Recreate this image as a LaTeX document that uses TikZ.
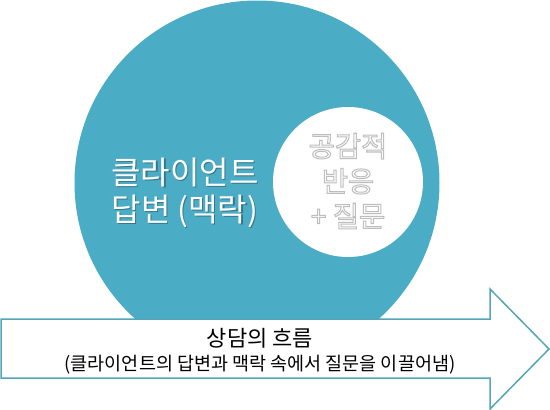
\documentclass[tikz,border=0pt]{standalone}
\usepackage{fontspec}
\setmainfont{Noto Sans CJK KR}
\definecolor{tealfill}{HTML}{4BACC6}
\definecolor{arrowline}{HTML}{55A5B8}
\newcommand{\strokedtext}[1]{\special{pdf:literal direct 2 Tr 1 w 0.74 0.74 0.74 RG}#1\special{pdf:literal direct 0 Tr}}
\tikzset{
  bigtext/.style={align=center, font=\fontsize{32}{37}\selectfont, text=white, inner sep=0pt},
  circtext/.style={align=center, font=\fontsize{28.5}{35}\selectfont, inner sep=0pt},
  flowarrow/.style={draw=arrowline, line width=1.5pt, fill=white, line join=miter},
}
\begin{document}
\begin{tikzpicture}[x=1pt,y=-1pt]
\useasboundingbox (0,0) rectangle (550,410);
% big circle
\fill[tealfill] (257,183) circle (182.5);
% small white circle
\fill[white] (348,182) circle (75);
% left text with shadow
\node[bigtext, text=black, opacity=0.3] (clientshadow) at (186.2,194.2) {클라이언트\\답변 (맥락)};
\node[bigtext] (client) at (185,193) {클라이언트\\답변 (맥락)};
% circle text with grey outline
\node[circtext, text=white] (emp) at (348,181) {\strokedtext{공감적}\\\strokedtext{반응}\\\strokedtext{+ 질문}};
% arrow
\draw[flowarrow] (1,319) -- (490,319) -- (490,289) -- (549,349) -- (490,409) -- (490,378) -- (1,378) -- cycle;
\node[font=\fontsize{22}{26}\selectfont, inner sep=0pt] (flow) at (260,338) {상담의 흐름};
\node[font=\fontsize{18.5}{22}\selectfont, inner sep=0pt] (flowsub) at (260,365) {(클라이언트의 답변과 맥락 속에서 질문을 이끌어냄)};
\end{tikzpicture}
\end{document}
